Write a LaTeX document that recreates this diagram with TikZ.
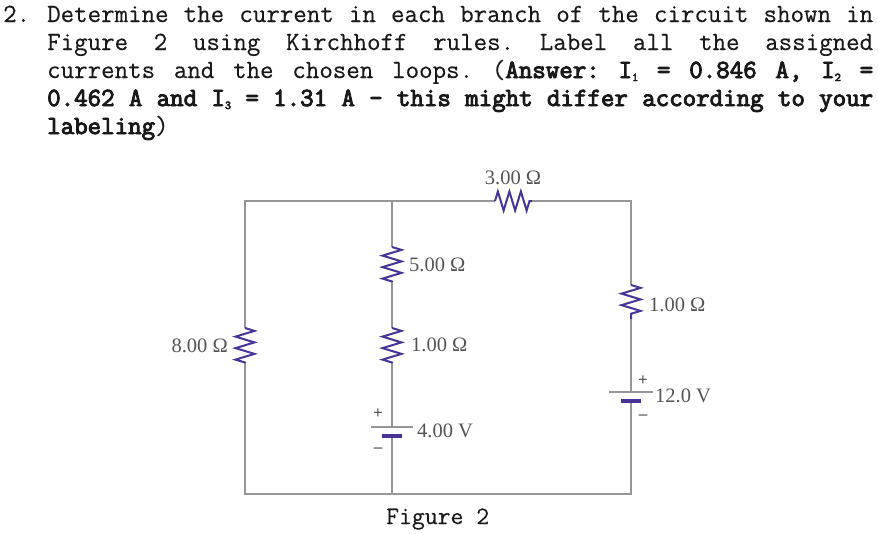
\documentclass[tikz,border=0pt]{standalone}
\usepackage{fontspec}
\setmonofont{Latin Modern Mono}[FakeBold=0.3]
\newfontfamily\heavyfont{Latin Modern Mono}[FakeBold=3.5]
\newfontfamily\valuefont{Liberation Serif}
\usetikzlibrary{decorations.pathmorphing}
\definecolor{wiregray}{RGB}{150,150,150}
\definecolor{resblue}{RGB}{72,52,150}
\definecolor{valgray}{RGB}{85,85,85}
\newcommand{\isub}[1]{\raisebox{-3pt}{\fontsize{12}{12}\selectfont #1}}
\tikzset{
  wire/.style={draw=wiregray, line width=2pt},
  res/.style={draw=resblue, line width=2pt, decorate,
    decoration={zigzag, amplitude=9.5pt, segment length=11.5pt}},
  plate/.style={draw=wiregray, line width=1.4pt},
  shortplate/.style={draw=resblue, line width=3.5pt},
  val/.style={inner sep=0pt, text=valgray, font=\valuefont\fontsize{20.5}{20.5}\selectfont},
  sign/.style={inner sep=0pt, text=valgray, font=\valuefont\bfseries\fontsize{17}{17}\selectfont},
  qline/.style={inner sep=0pt, anchor=base west, text=black!90, font=\ttfamily\fontsize{26.2}{26.2}\selectfont}
}
\begin{document}
\begin{tikzpicture}[x=1pt,y=-1pt]
    \useasboundingbox (0,0) rectangle (878,533);
    % Enunciado
    \node[qline] (num) at (3,22) {2.};
    \node[qline] (l1) at (47,22) {\hbox to 826pt{Determine\hfill the\hfill current\hfill in\hfill each\hfill branch\hfill of\hfill the\hfill circuit\hfill shown\hfill in}};
    \node[qline] (l2) at (47,50) {\hbox to 826pt{Figure\hfill 2\hfill using\hfill Kirchhoff\hfill rules.\hfill Label\hfill all\hfill the\hfill assigned}};
    \node[qline] (l3) at (47,78) {\hbox to 826pt{currents\hfill and\hfill the\hfill chosen\hfill loops.\hfill ({\heavyfont Answer:}\hfill {\heavyfont I\isub{1}}\hfill {\heavyfont =}\hfill {\heavyfont 0.846}\hfill {\heavyfont A,}\hfill {\heavyfont I\isub{2}}\hfill {\heavyfont =}}};
    \node[qline] (l4) at (47,106) {\hbox to 826pt{\heavyfont 0.462\hfill A\hfill and\hfill I\isub{3}\hfill =\hfill 1.31\hfill A\hfill -\hfill this\hfill might\hfill differ\hfill according\hfill to\hfill your}};
    \node[qline] (l5) at (47,134) {{\heavyfont labeling})};
    % Esquinas y uniones
    \coordinate (tl) at (245,201);
    \coordinate (tm) at (392,201);
    \coordinate (tr) at (631,201);
    \coordinate (bl) at (245,494);
    \coordinate (bm) at (392,494);
    \coordinate (br) at (631,494);
    % Extremos de las resistencias
    \coordinate (r3a) at (495,201);
    \coordinate (r3b) at (532,201);
    \coordinate (r5a) at (392,247);
    \coordinate (r5b) at (392,282);
    \coordinate (r1ma) at (392,328);
    \coordinate (r1mb) at (392,363);
    \coordinate (r1ra) at (631,285);
    \coordinate (r1rb) at (631,319);
    \coordinate (r8a) at (245,328);
    \coordinate (r8b) at (245,363);
    % Extremos de las pilas
    \coordinate (b4a) at (392,427);
    \coordinate (b4b) at (392,436);
    \coordinate (b12a) at (631,392);
    \coordinate (b12b) at (631,401);
    % Cables
    \draw[wire] (r8a) -- (tl) -- (r3a);
    \draw[wire] (r3b) -- (tr) -- (r1ra);
    \draw[wire] (r1rb) -- (b12a);
    \draw[wire] (b12b) -- (br) -- (bl) -- (r8b);
    \draw[wire] (tm) -- (r5a);
    \draw[wire] (r5b) -- (r1ma);
    \draw[wire] (r1mb) -- (b4a);
    \draw[wire] (b4b) -- (bm);
    % Resistencias
    \draw[res] (r3a) -- (r3b);
    \draw[res] (r5a) -- (r5b);
    \draw[res] (r1ma) -- (r1mb);
    \draw[res] (r1ra) -- (r1rb);
    \draw[res] (r8a) -- (r8b);
    % Pilas
    \draw[plate] ([xshift=-21pt]b4a) -- ([xshift=21pt]b4a);
    \draw[shortplate] ([xshift=-10pt]b4b) -- ([xshift=10pt]b4b);
    \draw[plate] ([xshift=-22pt]b12a) -- ([xshift=22pt]b12a);
    \draw[shortplate] ([xshift=-10pt]b12b) -- ([xshift=10pt]b12b);
    \node[sign] (p4) at (378,414) {+};
    \node[sign] (m4) at (378,450) {\textendash};
    \node[sign] (p12) at (643,381) {+};
    \node[sign] (m12) at (643,417) {\textendash};
    % Valores
    \node[val] (v3) at (513,178) {3.00 Ω};
    \node[val, anchor=west] (v5) at (409,265) {5.00 Ω};
    \node[val, anchor=west] (v1r) at (649,305) {1.00 Ω};
    \node[val, anchor=west] (v1m) at (411,345) {1.00 Ω};
    \node[val, anchor=east] (v8) at (228,346) {8.00 Ω};
    \node[val, anchor=west] (v4) at (417,431) {4.00 V};
    \node[val, anchor=west] (v12) at (655,396) {12.0 V};
    % Pie de figura
    \node[qline, font=\ttfamily\fontsize{25}{25}\selectfont] (fig) at (386,524) {Figure 2};
\end{tikzpicture}
\end{document}
